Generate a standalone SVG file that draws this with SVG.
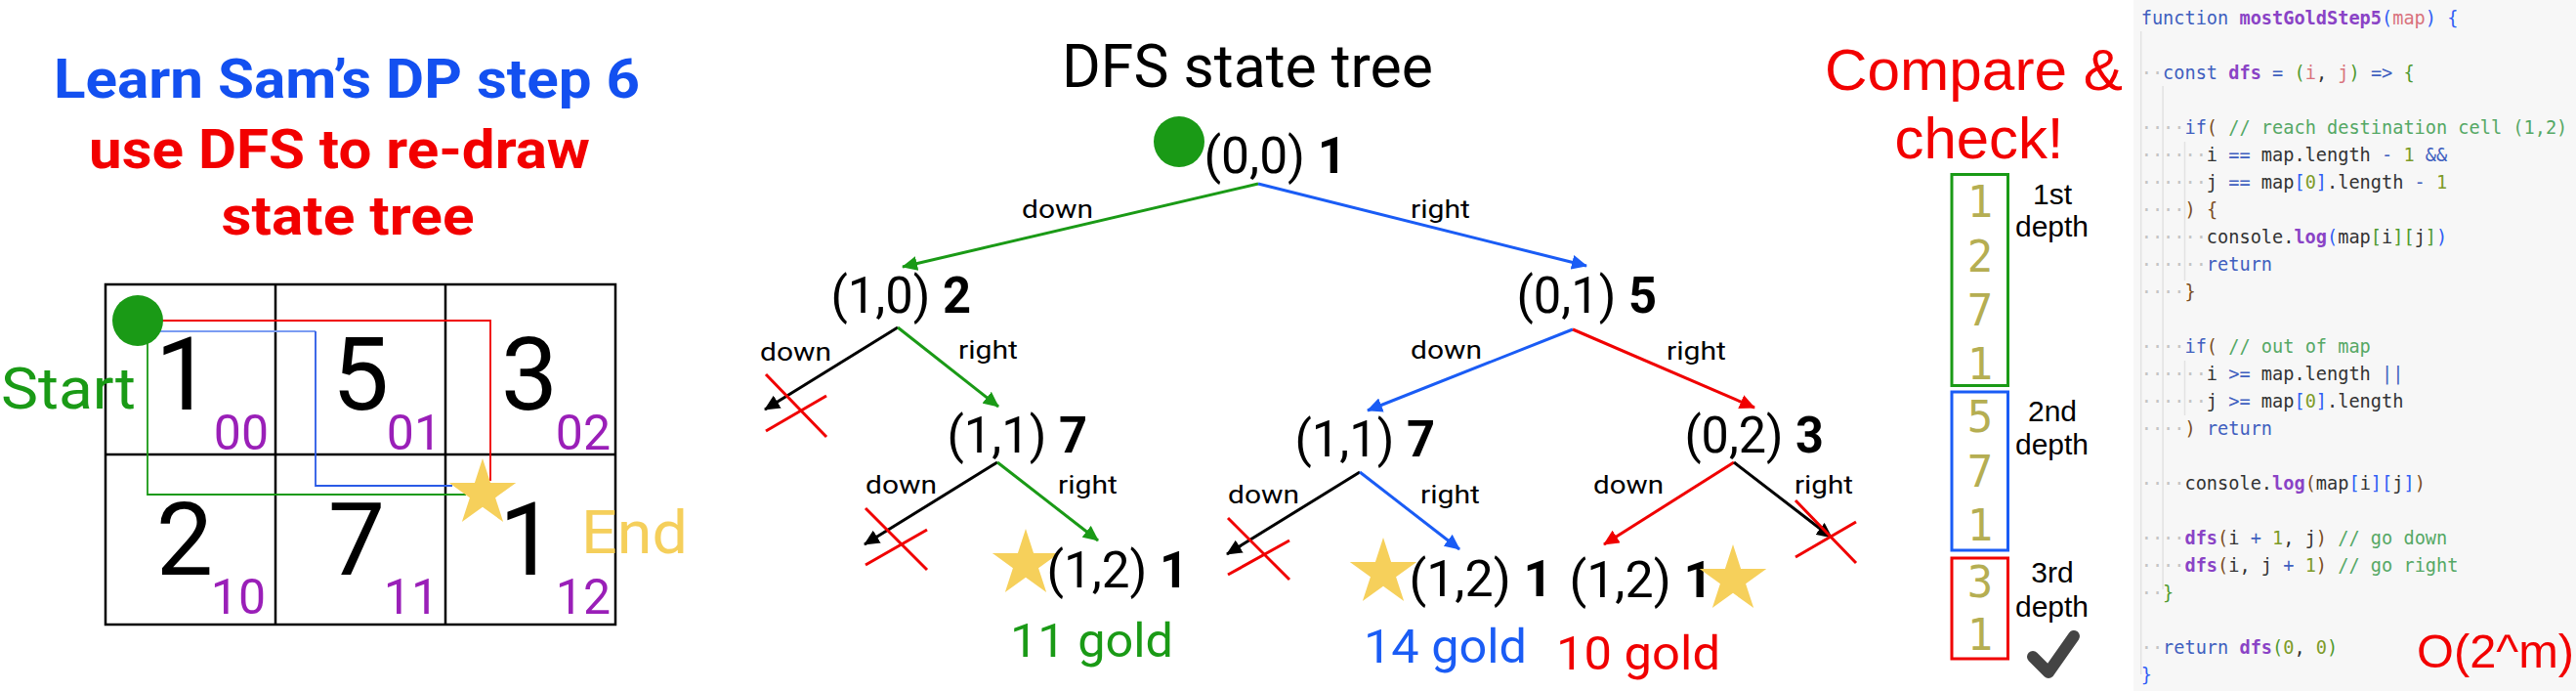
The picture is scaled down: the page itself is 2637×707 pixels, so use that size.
<svg xmlns="http://www.w3.org/2000/svg" width="2637" height="707" viewBox="0 0 2637 707">
<style>
.rb{font-family:Roboto,"Liberation Sans",sans-serif}
.t1{font-weight:bold;font-size:55px}
.cell{font-size:104px;fill:#000;text-anchor:middle}
.sub{font-size:50px;fill:#9a1fb8;text-anchor:end}
.gl{fill:none;stroke:#000;stroke-width:2.5}
.node{font-size:52px;fill:#000}
.lbl{font-size:26px;fill:#000}
.gold{font-size:49px}
.cg{stroke:#1a9a16;stroke-width:3}
.cb{stroke:#1a5cf5;stroke-width:3}
.cr{stroke:#f00000;stroke-width:3}
.ck{stroke:#000;stroke-width:3}
.xx{stroke:#f00000;stroke-width:3}
.ls{font-family:"Liberation Sans",Arial,sans-serif}
.dep{font-size:30px;fill:#000;text-anchor:middle}
.dig{font-family:"DejaVu Sans Mono",monospace;font-size:44px;fill:#b5ae52;text-anchor:middle}
.code{font-family:"DejaVu Sans Mono",monospace;font-size:18.6px;fill:#333;white-space:pre}
.kw{fill:#3f5fbf}.fn{fill:#8a43c6;font-weight:bold}.pa{fill:#d9727d}.cm{fill:#55a865}.nu{fill:#7d9b28}
.b1{fill:#2f5ef5}.b2{fill:#4f9a2e}.b3{fill:#7b4d21}.ws{fill:#c4c4c4}
.guide{stroke:#e2e2e2;stroke-width:1.5}
</style>
<defs>
<path id="star" d="M0,-36 L8.08,-11.12 L34.24,-11.12 L13.08,4.25 L21.16,29.12 L0,13.75 L-21.16,29.12 L-13.08,4.25 L-34.24,-11.12 L-8.08,-11.12 Z" fill="#f6d05b"/>
<marker id="ah-g" viewBox="0 0 16 15" refX="15" refY="7.5" markerWidth="16" markerHeight="15" markerUnits="userSpaceOnUse" orient="auto"><path d="M0,0 L16,7.5 L0,15 z" fill="#1a9a16"/></marker>
<marker id="ah-b" viewBox="0 0 16 15" refX="15" refY="7.5" markerWidth="16" markerHeight="15" markerUnits="userSpaceOnUse" orient="auto"><path d="M0,0 L16,7.5 L0,15 z" fill="#1a5cf5"/></marker>
<marker id="ah-r" viewBox="0 0 16 15" refX="15" refY="7.5" markerWidth="16" markerHeight="15" markerUnits="userSpaceOnUse" orient="auto"><path d="M0,0 L16,7.5 L0,15 z" fill="#f00000"/></marker>
<marker id="ah-k" viewBox="0 0 16 15" refX="15" refY="7.5" markerWidth="16" markerHeight="15" markerUnits="userSpaceOnUse" orient="auto"><path d="M0,0 L16,7.5 L0,15 z" fill="#000"/></marker>
</defs>
<rect width="2637" height="707" fill="#fff"/>

<g id="title" class="rb t1">
<text x="55" y="100" fill="#1350f0" textLength="600" lengthAdjust="spacingAndGlyphs">Learn Sam’s DP step 6</text>
<text x="91" y="172" fill="#f20000" textLength="513" lengthAdjust="spacingAndGlyphs">use DFS to re-draw</text>
<text x="226.5" y="240" fill="#f20000" textLength="259" lengthAdjust="spacingAndGlyphs">state tree</text>
</g>

<g id="grid">
<rect class="gl" x="108" y="291" width="522" height="348"/>
<line class="gl" x1="282" y1="291" x2="282" y2="639"/>
<line class="gl" x1="456" y1="291" x2="456" y2="639"/>
<line class="gl" x1="108" y1="465" x2="630" y2="465"/>
<path d="M141,328 H502 V492" fill="none" stroke="#f00000" stroke-width="1.8"/>
<path d="M141,339 H323" fill="none" stroke="#7b9cf2" stroke-width="2"/>
<path d="M323,339 V497 H463" fill="none" stroke="#2a5ae6" stroke-width="1.8"/>
<path d="M151,328 V506 H477" fill="none" stroke="#1a9a16" stroke-width="1.8"/>
<circle cx="141" cy="328" r="26" fill="#1a9a16"/>
<use href="#star" x="494" y="505"/>
<g class="rb">
<text class="cell" x="188" y="419">1</text>
<text class="cell" x="369" y="419">5</text>
<text class="cell" x="542" y="419">3</text>
<text class="cell" x="189" y="588">2</text>
<text class="cell" x="365" y="588">7</text>
<text class="cell" x="540" y="588">1</text>
<text class="sub" x="275" y="460">00</text>
<text class="sub" x="452" y="460">01</text>
<text class="sub" x="625" y="460">02</text>
<text class="sub" x="272" y="628">10</text>
<text class="sub" x="449" y="628">11</text>
<text class="sub" x="625" y="628">12</text>
<text x="1" y="418" font-size="60" fill="#1a9a16" textLength="138" lengthAdjust="spacingAndGlyphs">Start</text>
<text x="595" y="566" font-size="61" fill="#f5cf5b" textLength="109" lengthAdjust="spacingAndGlyphs">End</text>
</g>
</g>

<g id="tree-title" class="rb">
<text x="1087" y="89" font-size="62" fill="#000" textLength="380" lengthAdjust="spacingAndGlyphs">DFS state tree</text>
</g>

<g id="connectors">
<line class="cg" x1="1288" y1="188" x2="924" y2="273" marker-end="url(#ah-g)"/>
<line class="cb" x1="1288" y1="188" x2="1624" y2="272" marker-end="url(#ah-b)"/>
<line class="ck" x1="919" y1="335" x2="783" y2="419" marker-end="url(#ah-k)"/>
<line class="cg" x1="919" y1="335" x2="1022" y2="416" marker-end="url(#ah-g)"/>
<line class="cb" x1="1610" y1="337" x2="1400" y2="420" marker-end="url(#ah-b)"/>
<line class="cr" x1="1610" y1="337" x2="1796" y2="417" marker-end="url(#ah-r)"/>
<line class="ck" x1="1021" y1="473" x2="885" y2="557" marker-end="url(#ah-k)"/>
<line class="cg" x1="1021" y1="473" x2="1124" y2="553" marker-end="url(#ah-g)"/>
<line class="ck" x1="1392" y1="483" x2="1256" y2="567" marker-end="url(#ah-k)"/>
<line class="cb" x1="1392" y1="483" x2="1494" y2="562" marker-end="url(#ah-b)"/>
<line class="cr" x1="1775" y1="473" x2="1642" y2="557" marker-end="url(#ah-r)"/>
<line class="ck" x1="1775" y1="473" x2="1875" y2="550" marker-end="url(#ah-k)"/>
<g class="rb lbl">
<text x="1046" y="223" textLength="73" lengthAdjust="spacingAndGlyphs">down</text>
<text x="1444" y="223" textLength="61" lengthAdjust="spacingAndGlyphs">right</text>
<text x="778" y="369" textLength="73" lengthAdjust="spacingAndGlyphs">down</text>
<text x="981" y="367" textLength="61" lengthAdjust="spacingAndGlyphs">right</text>
<text x="1444" y="367" textLength="73" lengthAdjust="spacingAndGlyphs">down</text>
<text x="1706" y="368" textLength="61" lengthAdjust="spacingAndGlyphs">right</text>
<text x="886" y="505" textLength="73" lengthAdjust="spacingAndGlyphs">down</text>
<text x="1083" y="505" textLength="61" lengthAdjust="spacingAndGlyphs">right</text>
<text x="1257" y="515" textLength="73" lengthAdjust="spacingAndGlyphs">down</text>
<text x="1454" y="515" textLength="61" lengthAdjust="spacingAndGlyphs">right</text>
<text x="1631" y="505" textLength="72" lengthAdjust="spacingAndGlyphs">down</text>
<text x="1837" y="505" textLength="60" lengthAdjust="spacingAndGlyphs">right</text>
</g>
<g id="dead-ends">
<line class="xx" x1="784" y1="383" x2="846" y2="447"/><line class="xx" x1="784" y1="441" x2="846" y2="405"/>
<line class="xx" x1="886" y1="520" x2="949" y2="583"/><line class="xx" x1="886" y1="578" x2="949" y2="542"/>
<line class="xx" x1="1257" y1="530" x2="1320" y2="593"/><line class="xx" x1="1257" y1="588" x2="1320" y2="553"/>
<line class="xx" x1="1838" y1="512" x2="1900" y2="576"/><line class="xx" x1="1838" y1="570" x2="1900" y2="534"/>
</g>
</g>

<g id="node-00">
<circle cx="1207" cy="145" r="26" fill="#1a9a16"/>
<text class="rb node" x="1232.4" y="177" textLength="146" lengthAdjust="spacingAndGlyphs">(0,0) <tspan font-weight="bold">1</tspan></text>
</g>
<g id="node-10"><text class="rb node" x="850.4" y="320" textLength="143.6" lengthAdjust="spacingAndGlyphs">(1,0) <tspan font-weight="bold">2</tspan></text></g>
<g id="node-01"><text class="rb node" x="1552.4" y="320" textLength="143.6" lengthAdjust="spacingAndGlyphs">(0,1) <tspan font-weight="bold">5</tspan></text></g>
<g id="node-11a"><text class="rb node" x="969.4" y="463" textLength="143.6" lengthAdjust="spacingAndGlyphs">(1,1) <tspan font-weight="bold">7</tspan></text></g>
<g id="node-11b"><text class="rb node" x="1325.4" y="467" textLength="143.6" lengthAdjust="spacingAndGlyphs">(1,1) <tspan font-weight="bold">7</tspan></text></g>
<g id="node-02"><text class="rb node" x="1724.4" y="463" textLength="142.6" lengthAdjust="spacingAndGlyphs">(0,2) <tspan font-weight="bold">3</tspan></text></g>
<g id="node-12a">
<use href="#star" x="1050" y="577"/>
<text class="rb node" x="1071.4" y="601" textLength="145" lengthAdjust="spacingAndGlyphs">(1,2) <tspan font-weight="bold">1</tspan></text>
<text class="rb gold" x="1034" y="672" fill="#1a9a16" textLength="167" lengthAdjust="spacingAndGlyphs">11 gold</text>
</g>
<g id="node-12b">
<use href="#star" x="1416" y="586"/>
<text class="rb node" x="1442.4" y="610" textLength="147" lengthAdjust="spacingAndGlyphs">(1,2) <tspan font-weight="bold">1</tspan></text>
<text class="rb gold" x="1396" y="678" fill="#1a5cf5" textLength="167" lengthAdjust="spacingAndGlyphs">14 gold</text>
</g>
<g id="node-12c">
<text class="rb node" x="1606.4" y="611" textLength="147" lengthAdjust="spacingAndGlyphs">(1,2) <tspan font-weight="bold">1</tspan></text>
<use href="#star" x="1774" y="593"/>
<text class="rb gold" x="1593" y="685" fill="#f00000" textLength="168" lengthAdjust="spacingAndGlyphs">10 gold</text>
</g>

<g id="compare">
<text class="ls" x="1868" y="92" font-size="60" fill="#f20000" textLength="305" lengthAdjust="spacingAndGlyphs">Compare &amp;</text>
<text class="ls" x="1939.5" y="162" font-size="60" fill="#f20000" textLength="173" lengthAdjust="spacingAndGlyphs">check!</text>
<rect x="1998" y="178.5" width="57.5" height="216" fill="none" stroke="#1a9a16" stroke-width="3"/>
<rect x="1998" y="401" width="57.5" height="162" fill="none" stroke="#1a5cf5" stroke-width="3"/>
<rect x="1998" y="571" width="57.5" height="103" fill="none" stroke="#f00000" stroke-width="3"/>
<text class="dig" x="2027" y="222">1</text>
<text class="dig" x="2027" y="277.5">2</text>
<text class="dig" x="2027" y="333">7</text>
<text class="dig" x="2027" y="388">1</text>
<text class="dig" x="2027" y="442">5</text>
<text class="dig" x="2027" y="498">7</text>
<text class="dig" x="2027" y="553">1</text>
<text class="dig" x="2027" y="611">3</text>
<text class="dig" x="2027" y="665">1</text>
<g class="ls dep">
<text x="2101" y="209">1st</text><text x="2100.5" y="242">depth</text>
<text x="2101" y="431">2nd</text><text x="2100.5" y="465">depth</text>
<text x="2101" y="596">3rd</text><text x="2100.5" y="631">depth</text>
</g>
<polyline points="2081,672 2097,688 2123,651" fill="none" stroke="#444" stroke-width="12" stroke-linecap="round" stroke-linejoin="round"/>
</g>

<g id="code">
<rect x="2184" y="0" width="453" height="707" fill="#f7f7f7"/>
<line class="guide" x1="2191.7" y1="32" x2="2191.7" y2="690"/>
<line class="guide" x1="2214.1" y1="88" x2="2214.1" y2="603"/>
<line class="guide" x1="2236.5" y1="145" x2="2236.5" y2="287"/>
<line class="guide" x1="2236.5" y1="369" x2="2236.5" y2="425"/>
<g class="code" xml:space="preserve">
<text x="2191.7" y="25"><tspan class="kw">function</tspan> <tspan class="fn">mostGoldStep5</tspan><tspan class="b1">(</tspan><tspan class="pa">map</tspan><tspan class="b1">)</tspan> <tspan class="b1">{</tspan></text>
<text x="2191.7" y="81"><tspan class="ws">··</tspan><tspan class="kw">const</tspan> <tspan class="fn">dfs</tspan> <tspan class="kw">=</tspan> <tspan class="b2">(</tspan><tspan class="pa">i</tspan>, <tspan class="pa">j</tspan><tspan class="b2">)</tspan> <tspan class="kw">=&gt;</tspan> <tspan class="b2">{</tspan></text>
<text x="2191.7" y="137"><tspan class="ws">····</tspan><tspan class="kw">if</tspan><tspan class="b3">(</tspan> <tspan class="cm">// reach destination cell (1,2)</tspan></text>
<text x="2191.7" y="165"><tspan class="ws">······</tspan>i <tspan class="kw">==</tspan> map.length <tspan class="kw">-</tspan> <tspan class="nu">1</tspan> <tspan class="kw">&amp;&amp;</tspan></text>
<text x="2191.7" y="193"><tspan class="ws">······</tspan>j <tspan class="kw">==</tspan> map<tspan class="b1">[</tspan><tspan class="nu">0</tspan><tspan class="b1">]</tspan>.length <tspan class="kw">-</tspan> <tspan class="nu">1</tspan></text>
<text x="2191.7" y="221"><tspan class="ws">····</tspan><tspan class="b3">)</tspan> <tspan class="b3">{</tspan></text>
<text x="2191.7" y="249"><tspan class="ws">······</tspan>console.<tspan class="fn">log</tspan><tspan class="b1">(</tspan>map<tspan class="b2">[</tspan>i<tspan class="b2">]</tspan><tspan class="b2">[</tspan>j<tspan class="b2">]</tspan><tspan class="b1">)</tspan></text>
<text x="2191.7" y="277"><tspan class="ws">······</tspan><tspan class="kw">return</tspan></text>
<text x="2191.7" y="305"><tspan class="ws">····</tspan><tspan class="b3">}</tspan></text>
<text x="2191.7" y="361"><tspan class="ws">····</tspan><tspan class="kw">if</tspan><tspan class="b3">(</tspan> <tspan class="cm">// out of map</tspan></text>
<text x="2191.7" y="389"><tspan class="ws">······</tspan>i <tspan class="kw">&gt;=</tspan> map.length <tspan class="kw">||</tspan></text>
<text x="2191.7" y="417"><tspan class="ws">······</tspan>j <tspan class="kw">&gt;=</tspan> map<tspan class="b1">[</tspan><tspan class="nu">0</tspan><tspan class="b1">]</tspan>.length</text>
<text x="2191.7" y="445"><tspan class="ws">····</tspan><tspan class="b3">)</tspan> <tspan class="kw">return</tspan></text>
<text x="2191.7" y="501"><tspan class="ws">····</tspan>console.<tspan class="fn">log</tspan><tspan class="b3">(</tspan>map<tspan class="b1">[</tspan>i<tspan class="b1">]</tspan><tspan class="b1">[</tspan>j<tspan class="b1">]</tspan><tspan class="b3">)</tspan></text>
<text x="2191.7" y="557"><tspan class="ws">····</tspan><tspan class="fn">dfs</tspan><tspan class="b3">(</tspan>i <tspan class="kw">+</tspan> <tspan class="nu">1</tspan>, j<tspan class="b3">)</tspan> <tspan class="cm">// go down</tspan></text>
<text x="2191.7" y="585"><tspan class="ws">····</tspan><tspan class="fn">dfs</tspan><tspan class="b3">(</tspan>i, j <tspan class="kw">+</tspan> <tspan class="nu">1</tspan><tspan class="b3">)</tspan> <tspan class="cm">// go right</tspan></text>
<text x="2191.7" y="613"><tspan class="ws">··</tspan><tspan class="b2">}</tspan></text>
<text x="2191.7" y="669"><tspan class="ws">··</tspan><tspan class="kw">return</tspan> <tspan class="fn">dfs</tspan><tspan class="b2">(</tspan><tspan class="nu">0</tspan>, <tspan class="nu">0</tspan><tspan class="b2">)</tspan></text>
<text x="2191.7" y="697"><tspan class="b1">}</tspan></text>
</g>
<text class="ls" x="2474" y="683" font-size="48" fill="#f20000" textLength="161" lengthAdjust="spacingAndGlyphs">O(2^m)</text>
</g>
</svg>
